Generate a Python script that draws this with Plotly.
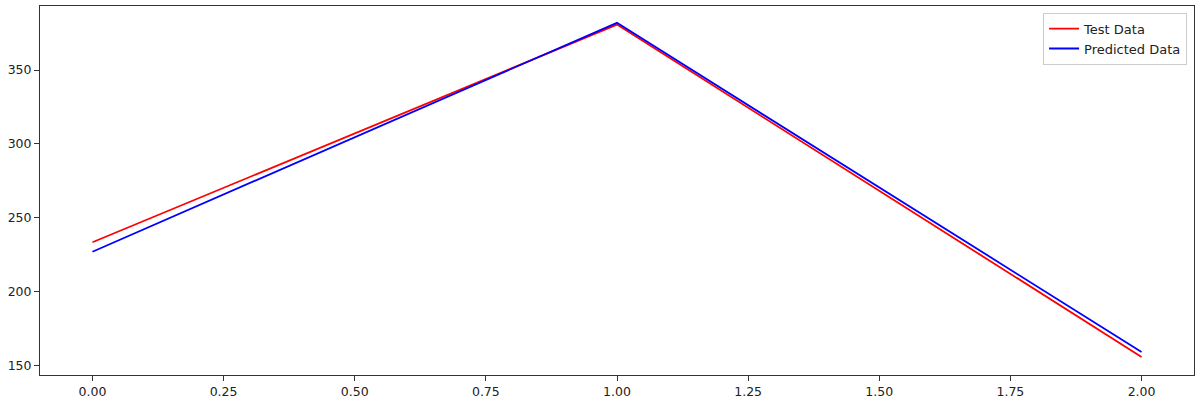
import plotly.graph_objects as go

# values
x_index = [0, 1, 2]
test_data = [233.4, 380.8, 155.7]
predicted_data = [227.0, 382.0, 159.1]

x_ticks = [0.0, 0.25, 0.5, 0.75, 1.0, 1.25, 1.5, 1.75, 2.0]
y_ticks = [150, 200, 250, 300, 350]

fig = go.Figure()

fig.add_trace(go.Scatter(
    x=x_index, y=test_data, mode='lines', name='Test Data',
    line=dict(color='red', width=1.8)
))
fig.add_trace(go.Scatter(
    x=x_index, y=predicted_data, mode='lines', name='Predicted Data',
    line=dict(color='blue', width=1.8)
))

axis_style = dict(
    showgrid=False, zeroline=False,
    showline=True, linecolor='#333333', linewidth=1, mirror=True,
    ticks='outside', ticklen=5, tickcolor='#333333', tickwidth=1,
    tickfont=dict(family='DejaVu Sans', size=12.5, color='#222222'),
)

fig.update_layout(
    width=1200, height=404,
    margin=dict(l=40, r=5, t=5, b=25),
    paper_bgcolor='white', plot_bgcolor='white',
    showlegend=True,
    legend=dict(
        x=0.994, y=0.982, xanchor='right', yanchor='top',
        bgcolor='rgba(255,255,255,0.8)', bordercolor='#cccccc', borderwidth=1,
        font=dict(family='DejaVu Sans', size=13, color='#222222'),
        tracegroupgap=0,
    ),
    xaxis=dict(range=[-0.1, 2.1], tickvals=x_ticks,
               ticktext=[f"{v:.2f}" for v in x_ticks], **axis_style),
    yaxis=dict(range=[143.5, 393.4], tickvals=y_ticks, **axis_style),
)

# drop the default page margin so the figure fills the window
fig.write_html("out.html", config={'displayModeBar': False},
               post_script="document.body.style.margin='0';")
